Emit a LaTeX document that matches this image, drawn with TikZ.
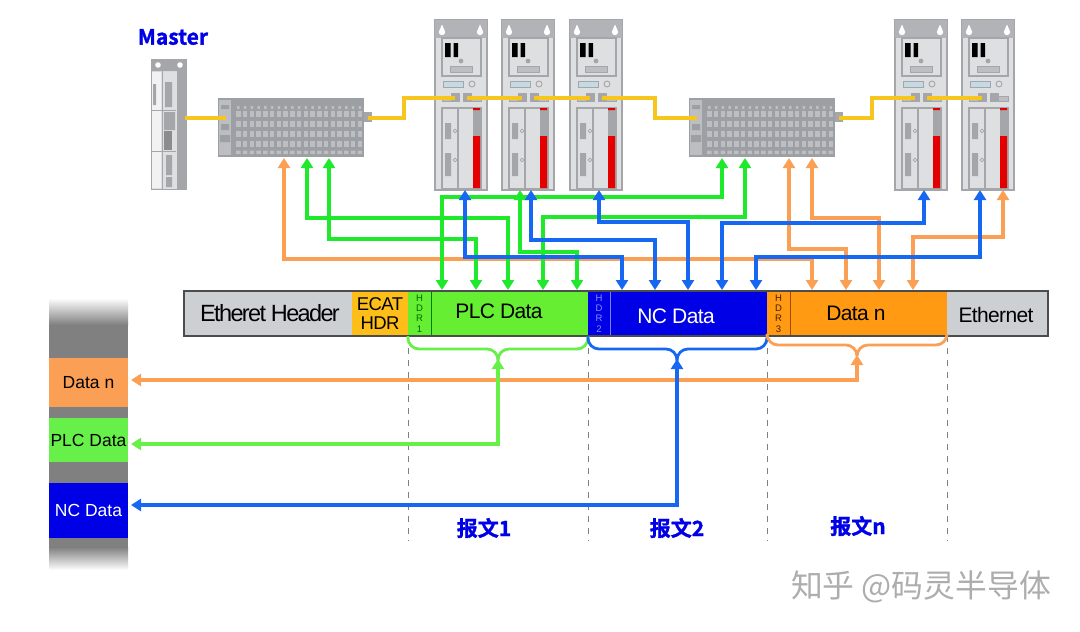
\documentclass[tikz,border=0pt]{standalone}
\usepackage{fontspec}
\setmainfont{Liberation Sans}
\newfontfamily\tightsans{Liberation Sans}[LetterSpace=-3]
\newfontfamily\widesans{Liberation Sans}[LetterSpace=-7]
\newfontfamily\cjk{Noto Sans CJK SC}
\newfontfamily\cjkheavy{Noto Sans CJK SC Bold}[FakeBold=1.4]
\usetikzlibrary{arrows.meta,positioning}
\definecolor{wyellow}{HTML}{F6C51E}
\definecolor{worange}{HTML}{FB9F55}
\definecolor{wgreen}{HTML}{1FE92B}
\definecolor{wlime}{HTML}{68F04A}
\definecolor{wblue}{HTML}{1668F2}
\definecolor{fgray}{HTML}{CDD0D3}
\definecolor{fecat}{HTML}{FDBE1A}
\definecolor{fgreen}{HTML}{66EE33}
\definecolor{fblue}{HTML}{0000E6}
\definecolor{forange}{HTML}{FF9A12}
\definecolor{bodygray}{HTML}{DEDFE1}
\definecolor{edgegray}{HTML}{A4A6A9}
\definecolor{iogray}{HTML}{9C9FA3}
\definecolor{iolight}{HTML}{BCBEC1}
\tikzset{
    field/.style={
           rectangle,
           inner sep=0,
           outer sep=0,
           minimum height=45},
    fieldtext/.style={
           inner sep=0,
           font=\tightsans\fontsize{21}{22}\selectfont},
    hdrtext/.style={
           align=center,
           inner sep=0,
           font=\fontsize{9.5}{10.4}\selectfont},
    buffer/.style={
           rectangle,
           inner sep=0,
           outer sep=0,
           minimum width=79,
           font=\fontsize{17.5}{20}\selectfont},
    caption/.style={
           inner sep=0,
           text=fblue,
           font=\cjkheavy\fontsize{21}{24}\selectfont},
    % Define arrow style
    wire/.style={
           {Triangle[length=10,width=12]}-{Triangle[length=10,width=12]},
           line width=3.3},
    brace/.style={
           line width=2.8,
           rounded corners=11},
    cable/.style={
           wyellow,
           line width=3.4},
    cut/.style={
           gray,
           dash pattern=on 6pt off 6pt,
           line width=1},
    drive/.pic={
        \node[draw=edgegray,line width=1.2,fill=bodygray,minimum width=52,minimum height=170,inner sep=0,outer sep=0,anchor=north west] (-body) at (0,0) {};
        \fill[edgegray!85] (0,0) rectangle (52,18);
        \foreach \hx in {7,45} \fill[white] (\hx,12) circle (3.2) (\hx-2.4,10) -- (\hx,4.5) -- (\hx+2.4,10);
        \draw[edgegray,line width=1.2] (7,18) rectangle (46,56);
        \fill[black] (10,23) rectangle (15.5,37) (18.5,23) rectangle (23,37);
        \fill[edgegray] (26,41) circle (2.4);
        \draw[edgegray,fill=iolight,line width=.9] (15,46) rectangle (37,52);
        \draw[edgegray,fill=cyan!15!bodygray,line width=.9] (8,61) rectangle (28,67);
        \draw[edgegray,fill=bodygray,line width=.9] (37,64) circle (3);
        \draw[edgegray,fill=iolight,line width=.8] (7,76) rectangle (46,81);
        \fill[edgegray] (16,73) rectangle (37,82);
        \fill[bodygray] (25,73) rectangle (28,82);
        \coordinate (-inport) at (20,78);
        \coordinate (-outport) at (32,78);
        \draw[edgegray,line width=1.2] (7,88) rectangle (46,169) (23,88) -- (23,169);
        \fill[edgegray] (38,89) rectangle (45,116);
        \fill[red!90!black] (38,88) rectangle (45,90) (38,116) rectangle (45,168);
        \fill[edgegray] (10,103) rectangle (16,119) (10,133) rectangle (16,156);
        \draw[edgegray,line width=.7] (20,111) circle (1.8) (20,140) circle (1.8);
    },
    ioblock/.pic={
        \node[fill=iogray,minimum width=146,minimum height=59,inner sep=0,outer sep=0,anchor=north west] (-body) at (0,0) {};
        \fill[iolight] (1,2) rectangle (13,57);
        \fill[iogray] (3,7) rectangle (11,11) (3,26) rectangle (11,32) (2,37) rectangle (12,44);
        \foreach \cx in {0,...,18}
            \foreach \ry in {16,26,36,46}
                \fill[iolight] (18+\cx*6.75,\ry-3) rectangle (22.5+\cx*6.75,\ry+3);
        \foreach \cx in {0,...,18}
            \fill[iolight] (18+\cx*6.75,52.5) rectangle (22.5+\cx*6.75,56)
                           (19+\cx*6.75,8) rectangle (21.5+\cx*6.75,11);
        \fill[edgegray] (146,14) rectangle (154,24);
        \coordinate (-inport) at (8,20);
        \coordinate (-outport) at (150,20);
    }
}
\begin{document}
\begin{tikzpicture}[x=1pt,y=-1pt]
\useasboundingbox (0,0) rectangle (1080,632);
% devices
\node[caption,text=fblue] (master) at (173,37) {Master};
\node[fill=bodygray,draw=edgegray,line width=1,minimum width=35,minimum height=130,inner sep=0,outer sep=0,anchor=north west] (plc) at (151,59) {};
\fill[edgegray] (151,59) rectangle (186,71) (177,71) rectangle (186,189);
\fill[white] (158,65) circle (2.8) (180,65) circle (2.8);
\fill[white!90!gray] (152,72) rectangle (161,188);
\draw[edgegray,line width=.9] (152,110) -- (176,110) (152,151) -- (176,151) (162,71) -- (162,189);
\fill[edgegray] (165,82) rectangle (172,107) (164,112) rectangle (175,130) (153,84) rectangle (156,105);
\fill[black!45] (164,131) rectangle (172,150);
\fill[edgegray] (166,155) rectangle (172,175) (166,177) rectangle (172,187);
\coordinate (plcport) at (185,118);
\pic (ioA) at (218,98) {ioblock};
\pic (ioB) at (689,98) {ioblock};
\pic (drvA) at (435,20) {drive};
\pic (drvB) at (502,20) {drive};
\pic (drvC) at (570,20) {drive};
\pic (drvD) at (895,20) {drive};
\pic (drvE) at (962,20) {drive};
% cable
\draw[cable] (plcport) -- (ioA-inport);
\draw[cable] (ioA-outport) -- ++(36,0) |- (drvA-inport);
\draw[cable] (drvA-outport) -- (drvB-inport);
\draw[cable] (drvB-outport) -- (drvC-inport);
\draw[cable] (drvC-outport) -| (655,118) -- (ioB-inport);
\draw[cable] (ioB-outport) -- ++(33,0) |- (drvD-inport);
\draw[cable] (drvD-outport) -- (drvE-inport);
% frame
\node[field,fill=fgray,minimum width=168,anchor=north west] (ether) at (184,291) {};
\node[field,fill=fecat,minimum width=56,right=0pt of ether,align=center,font=\tightsans\fontsize{18.5}{18.5}\selectfont] (ecat) {ECAT\\HDR};
\node[field,fill=fgreen,minimum width=23,right=0pt of ecat] (hdrA) {};
\node[field,fill=fgreen,minimum width=157,right=0pt of hdrA] (plcdata) {};
\node[field,fill=fblue,minimum width=22,right=0pt of plcdata] (hdrB) {};
\node[field,fill=fblue,minimum width=157,right=0pt of hdrB] (ncdata) {};
\node[field,fill=forange,minimum width=23,right=0pt of ncdata] (hdrC) {};
\node[field,fill=forange,minimum width=157,right=0pt of hdrC] (ndata) {};
\node[field,fill=fgray,minimum width=101,right=0pt of ndata] (ethend) {};
\draw[green!50!black,line width=.8] (hdrA.north east) -- (hdrA.south east);
\draw[blue!50!white,line width=.8] (hdrB.north east) -- (hdrB.south east);
\draw[orange!60!black,line width=.8] (hdrC.north east) -- (hdrC.south east);
\draw[black!70,line width=1.5] (ether.north west) rectangle (ethend.south east);
\node[fieldtext,font=\widesans\fontsize{23.5}{24}\selectfont] (ethertext) at (270,313) {Etheret Header};
\node[fieldtext] (plctext) at (499,311) {PLC Data};
\node[fieldtext,text=white] (nctext) at (676,316) {NC Data};
\node[fieldtext] (ntext) at (856,313) {Data n};
\node[fieldtext] (endtext) at (996,315) {Ethernet};
\node[hdrtext,text=green!40!black] (hdrAtext) at (hdrA) {H\\D\\R\\1};
\node[hdrtext,text=blue!45!white] (hdrBtext) at (hdrB) {H\\D\\R\\2};
\node[hdrtext,text=black!75!orange] (hdrCtext) at (hdrC) {H\\D\\R\\3};
% buffer
\shade[top color=white,bottom color=gray] (49,298) rectangle (128,325);
\fill[gray] (49,325) rectangle (128,547);
\shade[top color=gray,bottom color=white] (49,547) rectangle (128,570);
\node[buffer,fill=worange,minimum height=49,anchor=north west] (bufn) at (49,358) {Data n};
\node[buffer,fill=wlime,minimum height=44,anchor=north west] (bufplc) at (49,418) {PLC Data};
\node[buffer,fill=fblue,text=white,minimum height=55,anchor=north west] (bufnc) at (49,483) {NC Data};
% separators
\foreach \fname in {hdrA.south west,hdrB.south west,hdrC.south west,ndata.south east}
    \draw[cut] (\fname) -- ++(0,205);
% pins
\coordinate (ioApinO) at (284,158);
\coordinate (ioApinG) at (307,158);
\coordinate (ioApinH) at (329,158);
\coordinate (ioBpinG) at (722,158);
\coordinate (ioBpinH) at (745,158);
\coordinate (ioBpinO) at (789,158);
\coordinate (ioBpinP) at (812,158);
\coordinate (pinA) at (465,190);
\coordinate (pinB) at (531,190);
\coordinate (pinBg) at (520,190);
\coordinate (pinC) at (599,190);
\coordinate (pinD) at (924,190);
\coordinate (pinE) at (980,190);
\coordinate (pinEo) at (1003,190);
\foreach \px [count=\pn] in {442,476,508,543,577}
    \coordinate (plcin\pn) at (\px,290);
\foreach \px [count=\pn] in {622,655,688,722,756}
    \coordinate (ncin\pn) at (\px,290);
\foreach \px [count=\pn] in {812,846,879,913}
    \coordinate (nin\pn) at (\px,290);
\coordinate (bracePlc) at (498,349);
\coordinate (braceNc) at (677,349);
\coordinate (braceN) at (857,345);
% process data wires
\draw[wire,worange] (ioApinO) -- ++(0,101) -| (nin1);
\draw[wire,worange] (ioBpinO) -- ++(0,91) -| (nin2);
\draw[wire,worange] (ioBpinP) -- ++(0,60) -| (nin3);
\draw[wire,worange] (pinEo) -- ++(0,47) -| (nin4);
\draw[wire,wgreen] (ioApinG) -- ++(0,60) -| (plcin3);
\draw[wire,wgreen] (ioApinH) -- ++(0,81) -| (plcin2);
\draw[wire,wgreen] (ioBpinG) -- ++(0,39) -| (plcin1);
\draw[wire,wgreen] (ioBpinH) -- ++(0,59) -| (plcin4);
\draw[wire,wgreen] (pinBg) -- ++(0,62) -| (plcin5);
\draw[wire,wblue] (pinA) -- ++(0,67) -| (ncin1);
\draw[wire,wblue] (pinB) -- ++(0,50) -| (ncin2);
\draw[wire,wblue] (pinC) -- ++(0,32) -| (ncin3);
\draw[wire,wblue] (pinD) -- ++(0,33) -| (ncin4);
\draw[wire,wblue] (pinE) -- ++(0,67) -| (ncin5);
% braces
\draw[brace,wlime] (hdrA.south west) |- (bracePlc) -- ++(0,12);
\draw[brace,wlime] (plcdata.south east) |- (bracePlc) -- ++(0,12);
\draw[brace,wblue] (hdrB.south west) |- (braceNc) -- ++(0,12);
\draw[brace,wblue] (ncdata.south east) |- (braceNc) -- ++(0,12);
\draw[brace,worange] (hdrC.south west) |- (braceN) -- ++(0,10);
\draw[brace,worange] (ndata.south east) |- (braceN) -- ++(0,10);
\coordinate (footPlc) at (498,359);
\coordinate (footNc) at (677,359);
\coordinate (footN) at (857,355);
\draw[wire,worange] (footN) |- (131,380) coordinate (tipN);
\draw[wire,wlime] (footPlc) |- (131,444) coordinate (tipPlc);
\draw[wire,wblue] (footNc) |- (131,505) coordinate (tipNc);
% captions
\node[caption] (msgA) at (484,528) {报文1};
\node[caption] (msgB) at (677,528) {报文2};
\node[caption] (msgN) at (858,526) {报文n};
\node[inner sep=0,text=black!32,font=\cjk\fontsize{31.8}{34}\selectfont] (mark) at (921,587) {知乎 @码灵半导体};
\end{tikzpicture}
\end{document}
